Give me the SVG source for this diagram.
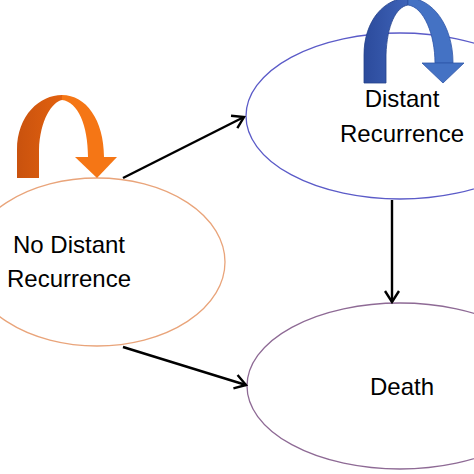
<svg xmlns="http://www.w3.org/2000/svg" width="474" height="474" viewBox="0 0 474 474">
<defs>
<marker id="vee" markerWidth="16" markerHeight="16" refX="13" refY="8" orient="auto" markerUnits="userSpaceOnUse">
<path d="M2,1 L13,8 L2,15" fill="none" stroke="#000" stroke-width="2.4" stroke-linejoin="miter"/>
</marker>
<linearGradient id="og" x1="0" y1="0" x2="1" y2="0">
<stop offset="0" stop-color="#C9520E"/><stop offset="1" stop-color="#E2610F"/>
</linearGradient>
<linearGradient id="bg" x1="0" y1="0" x2="1" y2="0">
<stop offset="0" stop-color="#2C4B9C"/><stop offset="1" stop-color="#3E63B8"/>
</linearGradient>
</defs>
<style>
.lbl{font-family:"Liberation Sans",Arial,sans-serif;font-size:24px;fill:#000;text-anchor:middle}
.conn{stroke:#000;stroke-width:2.4;fill:none}
</style>
<rect width="474" height="474" fill="#fff"/>
<g id="node-no-distant">
<ellipse cx="97" cy="262" rx="128" ry="84" fill="none" stroke="#E9A47A" stroke-width="1.3"/>
<text class="lbl" x="69" y="253">No Distant</text>
<text class="lbl" x="69" y="287">Recurrence</text>
</g>
<g id="node-distant">
<ellipse cx="400" cy="116" rx="154" ry="83" fill="none" stroke="#5B5BC8" stroke-width="1.3"/>
<text class="lbl" x="402" y="107">Distant</text>
<text class="lbl" x="402" y="142">Recurrence</text>
</g>
<g id="node-death">
<ellipse cx="400" cy="386" rx="153" ry="83" fill="none" stroke="#8E6A95" stroke-width="1.3"/>
<text class="lbl" x="402" y="395">Death</text>
</g>
<g id="self-loop-orange">
<path d="M17,178 L17,150 C17,115 40,95 62,95 L62,100 C52,102 40,120 39,150 L39,178 Z" fill="url(#og)"/>
<path d="M62,95 C86,95 104,120 104,157 L88,157 C88,125 78,102 62,100 Z" fill="#F57615"/>
<path d="M75,157 L117,157 L97,178 Z" fill="#F57615"/>
</g>
<g id="self-loop-blue">
<path d="M364,83 L364,55 C364,20 385,-2 408,-2 L408,5 C396,7 387,25 386,55 L386,83 Z" fill="url(#bg)" stroke="#24428C" stroke-width="0.8"/>
<path d="M408,-2 C432,-2 453,25 453,63 L435,63 C435,35 424,7 408,5 Z" fill="#4472C4" stroke="#2F55A8" stroke-width="0.8"/>
<path d="M422,63 L464,63 L443,83 Z" fill="#4472C4" stroke="#2F55A8" stroke-width="0.8"/>
</g>
<g id="connectors">
<line class="conn" x1="123" y1="178" x2="244" y2="117" marker-end="url(#vee)"/>
<line class="conn" x1="123" y1="347" x2="246" y2="385" marker-end="url(#vee)"/>
<line class="conn" x1="392" y1="200" x2="392" y2="302" marker-end="url(#vee)"/>
</g>
</svg>
